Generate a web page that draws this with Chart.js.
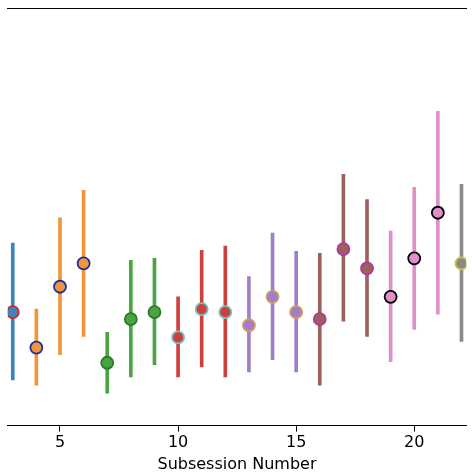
<!DOCTYPE html>
<html><head><meta charset="utf-8">
<script src="https://cdn.jsdelivr.net/npm/chart.js@4"></script>
<style>html,body{margin:0;padding:0;background:#fff}#wrap{width:474px;height:474px}</style>
</head><body><div id="wrap"><canvas id="c"></canvas></div>
<script>
var sessions = [3,4,5,6,7,8,9,10,11,12,13,14,15,16,17,18,19,20,21,22];
var means = [112,77,137,160,62,105,112,87,115,112,99,127,112,105,174,155,127,165,210,160];
var lows  = [45,40,70,88,32,48,60,48,58,48,53,65,53,40,103,88,63,95,110,83];
var highs = [180,115,205,232,92,163,165,127,173,177,147,190,172,170,248,223,192,235,310,238];
var fills = ['#3a85bb','#f0953a','#f0953a','#f0953a','#4aa43f','#4aa43f','#4aa43f','#d0403a','#d0403a','#d0403a',
             '#a07fc8','#a07fc8','#a07fc8','#9a625a','#9a625a','#9a625a','#e090c8','#e090c8','#e090c8','#8a8a8a'];
var edges = ['#d62728','#1f2fa0','#1f2fa0','#1f2fa0','#2a7a2a','#2a7a2a','#2a7a2a','#6cc4c4','#6cc4c4','#6cc4c4',
             '#d09a60','#d09a60','#d09a60','#b03aa0','#b03aa0','#b03aa0','#000000','#000000','#000000','#c8c830'];

var ctx = document.getElementById('c');
new Chart(ctx, {
    type: 'bar',
    data: {
        datasets: [
            {
                type: 'bar',
                data: sessions.map((s, i) => ({ x: s, y: [lows[i], highs[i]] })),
                backgroundColor: fills,
                barThickness: 3,
                borderWidth: 0,
                order: 2
            },
            {
                type: 'scatter',
                data: sessions.map((s, i) => ({ x: s, y: means[i] })),
                backgroundColor: fills,
                borderColor: edges,
                borderWidth: 1.8,
                pointRadius: 6,
                order: 1
            }
        ]
    },
    options: {
        responsive: true,
        maintainAspectRatio: false,
        animation: false,
        layout: { padding: 0 },
        plugins: { legend: { display: false }, tooltip: { enabled: false } },
        scales: {
            x: {
                type: 'linear',
                offset: false,
                min: 2.79, max: 22.2,
                afterBuildTicks: function (axis) { axis.ticks = [5,10,15,20].map(v => ({ value: v })); },
                grid: { drawOnChartArea: false, offset: false, tickLength: 6, color: '#000', tickWidth: 1 },
                border: { color: '#000', width: 1 },
                ticks: { color: '#000', font: { family: 'DejaVu Sans', size: 16 }, padding: 2 },
                title: { display: true, text: 'Subsession Number', color: '#000', font: { family: 'DejaVu Sans', size: 16 }, padding: { top: 0, bottom: 0 } }
            },
            xTop: {
                type: 'linear', position: 'top', offset: false, min: 2.79, max: 22.2,
                grid: { display: false, offset: false },
                border: { color: '#000', width: 1 },
                ticks: { display: false }
            },
            y: {
                display: false,
                min: 0, max: 412
            }
        }
    }
});
</script></body></html>
